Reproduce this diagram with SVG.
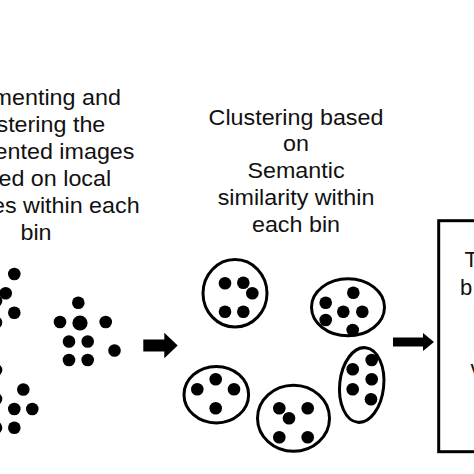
<svg xmlns="http://www.w3.org/2000/svg" width="474" height="474" viewBox="0 0 474 474">
<style>
.t{font-family:"Liberation Sans",Arial,sans-serif;font-size:22px;fill:#111;text-anchor:middle}
.tl{font-family:"Liberation Sans",Arial,sans-serif;font-size:22px;fill:#111}
.d{fill:#000}
.ring{fill:none;stroke:#000;stroke-width:3}
.arr{fill:#000}
</style>
<rect width="474" height="474" fill="#fff"/>
<g id="label-left" transform="translate(36,0) scale(1.06,1)">
<text class="t" x="0" y="105">Segmenting and</text>
<text class="t" x="0" y="132">clustering the</text>
<text class="t" x="0" y="159">segmented images</text>
<text class="t" x="0" y="186">based on local</text>
<text class="t" x="0" y="213">features within each</text>
<text class="t" x="0" y="240">bin</text>
</g>
<g id="label-middle" transform="translate(296,0) scale(1.06,1)">
<text class="t" x="0" y="125">Clustering based</text>
<text class="t" x="0" y="151.5">on</text>
<text class="t" x="0" y="178">Semantic</text>
<text class="t" x="0" y="205">similarity within</text>
<text class="t" x="0" y="232">each bin</text>
</g>
<g id="points-left">
<circle class="d" cx="14.3" cy="274" r="6.3"/>
<circle class="d" cx="5.7" cy="293.3" r="6.3"/>
<circle class="d" cx="-4" cy="301" r="6.3"/>
<circle class="d" cx="14.3" cy="312.7" r="6.3"/>
<circle class="d" cx="-4" cy="322.5" r="6.3"/>
<circle class="d" cx="-4" cy="370" r="6.3"/>
<circle class="d" cx="23.3" cy="389.5" r="6.3"/>
<circle class="d" cx="-4" cy="399" r="6.3"/>
<circle class="d" cx="14.3" cy="409" r="6.3"/>
<circle class="d" cx="32.3" cy="409" r="6.3"/>
<circle class="d" cx="-4" cy="427.7" r="6.3"/>
<circle class="d" cx="14.3" cy="427.7" r="6.3"/>
<circle class="d" cx="78.3" cy="302.7" r="6.3"/>
<circle class="d" cx="60" cy="322" r="6.3"/>
<circle class="d" cx="80" cy="323" r="7.6"/>
<circle class="d" cx="105.7" cy="322" r="6.3"/>
<circle class="d" cx="69" cy="341.5" r="6.3"/>
<circle class="d" cx="87.7" cy="341.5" r="6.3"/>
<circle class="d" cx="114.5" cy="350.5" r="6.3"/>
<circle class="d" cx="69" cy="360" r="6.3"/>
<circle class="d" cx="87.7" cy="360" r="6.3"/>
</g>
<g id="cluster-1">
<ellipse class="ring" cx="235" cy="293.3" rx="32" ry="33.7"/>
<circle class="d" cx="225" cy="283.3" r="6.3"/>
<circle class="d" cx="243.3" cy="282.7" r="6.3"/>
<circle class="d" cx="252.3" cy="293.3" r="6.3"/>
<circle class="d" cx="225" cy="311.7" r="6.3"/>
<circle class="d" cx="243.3" cy="311.7" r="6.3"/>
</g>
<g id="cluster-2">
<ellipse class="ring" cx="348" cy="307.3" rx="36.5" ry="28.5"/>
<circle class="d" cx="353.3" cy="292.7" r="6.3"/>
<circle class="d" cx="325.7" cy="302.7" r="6.3"/>
<circle class="d" cx="343.3" cy="311.7" r="6.3"/>
<circle class="d" cx="362.3" cy="311.7" r="6.3"/>
<circle class="d" cx="325.7" cy="320" r="6.3"/>
<circle class="d" cx="352.7" cy="330" r="6.3"/>
</g>
<g id="cluster-3">
<ellipse class="ring" cx="361.7" cy="385" rx="22" ry="37.5" transform="rotate(6 361.7 385)"/>
<circle class="d" cx="371.7" cy="360" r="6.3"/>
<circle class="d" cx="352.7" cy="369.3" r="6.3"/>
<circle class="d" cx="371.7" cy="379.3" r="6.3"/>
<circle class="d" cx="352.7" cy="389.3" r="6.3"/>
<circle class="d" cx="371" cy="399.3" r="6.3"/>
</g>
<g id="cluster-4">
<ellipse class="ring" cx="216.3" cy="394.7" rx="32.3" ry="28.3"/>
<circle class="d" cx="215.7" cy="379.3" r="6.3"/>
<circle class="d" cx="197.3" cy="389.3" r="6.3"/>
<circle class="d" cx="234" cy="389.3" r="6.3"/>
<circle class="d" cx="215.7" cy="408.3" r="6.3"/>
</g>
<g id="cluster-5">
<ellipse class="ring" cx="293.5" cy="418.3" rx="36" ry="33"/>
<circle class="d" cx="279.3" cy="408.3" r="6.3"/>
<circle class="d" cx="307.7" cy="408.3" r="6.3"/>
<circle class="d" cx="289" cy="418.3" r="6.3"/>
<circle class="d" cx="279.3" cy="437.3" r="6.3"/>
<circle class="d" cx="307.7" cy="437.3" r="6.3"/>
</g>
<g id="box-right">
<rect x="438.7" y="220.7" width="100" height="231" fill="none" stroke="#000" stroke-width="3"/>
<text class="tl" x="464.5" y="267">T</text>
<text class="tl" x="460" y="295">b</text>
<text class="tl" x="470.5" y="376">v</text>
</g>
<g id="connectors">
<polygon class="arr" points="143.3,339.5 164.3,339.5 164.3,332.7 177.7,345.5 164.3,358.3 164.3,351.5 143.3,351.5"/>
<polygon class="arr" points="393,337.5 423,337.5 423,333 434,342 423,351 423,346.5 393,346.5"/>
</g>
</svg>
